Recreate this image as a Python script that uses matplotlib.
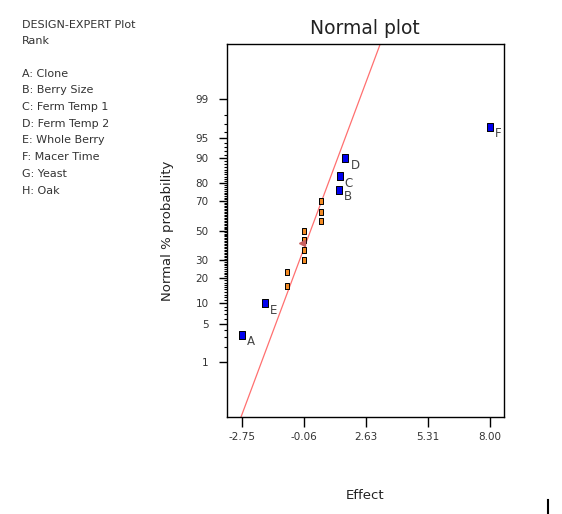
import matplotlib
matplotlib.use("Agg")
import matplotlib.pyplot as plt
from matplotlib.lines import Line2D
from statistics import NormalDist

# effects sorted by rank, with the plotted normal % probability
effects = [-2.75, -1.75, -0.77, -0.77, -0.06, -0.06, -0.06, -0.06, 0.70, 0.70, 0.70, 1.48, 1.50, 1.74, 8.00]
probs = [3.33, 10.0, 16.67, 23.33, 30.0, 36.67, 43.33, 50.0, 56.67, 63.33, 70.0, 76.67, 83.33, 90.0, 96.67]
labels = ["A", "E", "", "", "", "", "", "", "", "", "", "B", "C", "D", "F"]

factor_names = ["A: Clone", "B: Berry Size", "C: Ferm Temp 1", "D: Ferm Temp 2",
                "E: Whole Berry", "F: Macer Time", "G: Yeast", "H: Oak"]

xticks = [-2.75, -0.06, 2.63, 5.31, 8.00]
yticks = [1, 5, 10, 20, 30, 50, 70, 80, 90, 95, 99]

# reference line (mean, sd of the fitted normal)
line_mid = 0.23
line_sd = 0.915

# small marker near the G label
g_mark = (-0.12, 41.5)

nd = NormalDist()
def z(p):
    return nd.inv_cdf(p / 100.0)

W, H = 562, 514
fig = plt.figure(figsize=(W / 100, H / 100), dpi=100)
ax = fig.add_axes([226.7 / W, 1 - 417 / H, 277.3 / W, 373 / H])

xlim = (-3.40, 8.61)
ax.set_xlim(*xlim)
ax.set_ylim(-3.29, 3.30)

# fitted line
ax.plot(list(xlim), [(xlim[0] - line_mid) / line_sd, (xlim[1] - line_mid) / line_sd],
        color="#ff7070", lw=0.9, zorder=1)

rect_o = [(-0.32, -0.5), (0.32, -0.5), (0.32, 0.5), (-0.32, 0.5), (-0.32, -0.5)]
rect_b = [(-0.42, -0.5), (0.42, -0.5), (0.42, 0.5), (-0.42, 0.5), (-0.42, -0.5)]

for e, p, lab in zip(effects, probs, labels):
    if lab:
        ax.plot(e, z(p), marker=rect_b, ms=5.5, mfc="#0000ee", mec="black", mew=0.7, zorder=3)
        ax.annotate(lab, (e, z(p)), xytext=(5, -7), textcoords="offset pixels",
                    ha="left", va="center", fontsize=8.5, color="#444444", zorder=4)
    else:
        ax.plot(e, z(p), marker=rect_o, ms=5, mfc="#f28a24", mec="black", mew=0.7, zorder=3)

ax.plot(g_mark[0], z(g_mark[1]), marker="<", ms=5, color="#c86060", zorder=4)

ax.set_xticks(xticks)
ax.set_xticklabels(["%.2f" % t for t in xticks])
ax.set_yticks([z(t) for t in yticks])
ax.set_yticklabels([str(t) for t in yticks])
ax.set_yticks([z(t) for t in range(1, 100) if t not in yticks], minor=True)

ax.tick_params(axis="x", length=7, width=1, pad=4, labelsize=7.5, labelcolor="#333333")
ax.tick_params(axis="y", which="major", length=6, width=1, pad=7, labelsize=7.5, labelcolor="#333333")
ax.tick_params(axis="y", which="minor", length=2.5, width=0.8)
for s in ax.spines.values():
    s.set_linewidth(1.0)

ax.set_xlabel("Effect", fontsize=9.5, color="#222222")
ax.set_ylabel("Normal % probability", fontsize=9.5, color="#222222")
ax.xaxis.set_label_coords(0.5, -0.193)
ax.yaxis.set_label_coords(-0.19, 0.5)

fig.text(365 / W, 1 - 28 / H, "Normal plot", ha="center", va="center", fontsize=13.5, color="#222222")

# left info block
fig.text(21.7 / W, 1 - 24.5 / H, "DESIGN-EXPERT Plot", ha="left", va="center", fontsize=8, color="#333333")
fig.text(21.7 / W, 1 - 41 / H, "Rank", ha="left", va="center", fontsize=8, color="#333333")
for i, name in enumerate(factor_names):
    fig.text(21.7 / W, 1 - (73.7 + i * 16.7) / H, name, ha="left", va="center", fontsize=8, color="#333333")

# cursor mark at bottom right
fig.add_artist(Line2D([548 / W, 548 / W], [1 - 500 / H, 1 - 513 / H], color="black", lw=1.5))

fig.savefig("out.png", dpi=100)
